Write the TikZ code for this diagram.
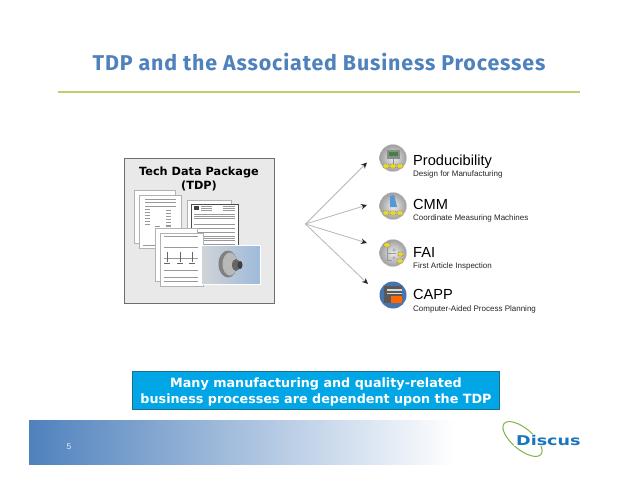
\documentclass[tikz,border=0pt]{standalone}
\usepackage{fontspec}
\setmainfont{Liberation Sans}
\newfontfamily\boldface{DejaVu Sans Bold}
\newfontfamily\titleface[LetterSpace=4]{Fira Sans Bold}
\newfontfamily\logoface[FakeStretch=1.3]{DejaVu Sans Bold}
\usetikzlibrary{arrows.meta,shadings}
\definecolor{titleblue}{HTML}{4F81BD}
\definecolor{rulegreen}{HTML}{B9D26E}
\definecolor{callfill}{HTML}{00A6E6}
\definecolor{callline}{HTML}{1F6F86}
\definecolor{boxfill}{HTML}{E9E9E9}
\definecolor{boxline}{HTML}{6E6E6E}
\definecolor{logoblue}{HTML}{1B75BC}
\definecolor{logogreen}{HTML}{7DB546}
\definecolor{iconyellow}{HTML}{EBD92A}
\tikzset{
  x=1pt,y=-1pt,
  big/.style={anchor=base west,inner sep=0pt,font=\fontsize{14.6}{18}\selectfont,text=black},
  small/.style={anchor=base west,inner sep=0pt,font=\fontsize{8}{10}\selectfont,text=black!85},
  link/.style={draw=black!28,line width=0.8pt,-{Stealth[length=6pt,width=5.5pt,black!85]}},
  paper/.style={fill=white,draw=black!30,line width=0.4pt},
  ink/.style={draw=black!40,line width=0.3pt},
  ball/.style={circle,minimum size=27pt,inner sep=0pt,inner color=black!7,outer color=black!38,draw=black!22,line width=0.3pt},
  pad/.style={fill=iconyellow,draw=black!50,line width=0.3pt,rounded corners=0.8pt},
}
\begin{document}
\begin{tikzpicture}
\useasboundingbox (0,0) rectangle (638,493);
\fill[white] (0,0) rectangle (638,493);
% title
\node[inner sep=0pt,anchor=center,text=titleblue,font=\titleface\fontsize{21.4}{24}\selectfont] (title) at (319,62) {TDP and the Associated Business Processes};
\draw[rulegreen,line width=1.2pt] (58,92) -- (580,92);
% TDP box
\node[draw=boxline,fill=boxfill,line width=0.8pt,minimum width=150pt,minimum height=145pt,inner sep=0pt] (tdp) at (199,230.5) {};
\node[inner sep=0pt,align=center,font=\boldface\fontsize{11.3}{14}\selectfont] (tdptext) at (199,179) {Tech Data Package\\(TDP)};
% document 1
\draw[paper] (134,190) rectangle (175,243);
\draw[paper] (139,195) rectangle (181,248);
\foreach \y in {199,202,206}{\draw[ink] (145,\y) -- (176,\y);}
\foreach \y in {209,212,...,224}{\draw[ink] (145,\y) -- (150,\y); \draw[ink] (166,\y+1) -- (171,\y+1);}
\foreach \y in {226,229,232,235}{\draw[ink] (155,\y) -- (160,\y); \draw[ink] (166,\y) -- (171,\y);}
\draw[ink] (143,245) -- (176,245);
% document 2
\draw[paper] (187,200) rectangle (231,252);
\draw[paper,draw=black!70,line width=0.6pt] (191,204) rectangle (238,257);
\fill[black!75] (194,206) rectangle (199,210);
\foreach \y in {206,208,210}{\draw[ink] (201,\y) -- (212,\y); \draw[ink] (223,\y) -- (235,\y);}
\foreach \y in {214,216,218,224,228,232,236,238,240,244,246,250}{\draw[ink] (194,\y) -- (235,\y);}
% document 3
\draw[paper] (155,228) rectangle (197,281);
\draw[paper] (160,233) rectangle (203,286);
\foreach \y in {236,247,258,270,277,281}{\draw[ink] (164,\y) -- (198,\y);}
\foreach \x in {167,180,192}{\draw[black!60,line width=0.8pt] (\x,252) -- (\x,262) (\x-3,263) -- (\x+3,263);}
% picture
\shade[left color=titleblue!30!black!20,right color=titleblue!55] (201,245) rectangle (260,284);
\draw[white,line width=0.4pt] (201,245) rectangle (260,284);
\fill[black!50] (228,264) ellipse (9.5pt and 13.5pt);
\fill[black!28] (230,264) ellipse (7.5pt and 11.5pt);
\fill[black!60] (236,265) ellipse (4pt and 6pt);
\fill[black!75] (240,265) ellipse (2.5pt and 4pt);
% icons
\node[ball] (i1) at (393,158) {};
\node[ball] (i2) at (393,206) {};
\node[ball] (i3) at (393,253) {};
\node[circle,minimum size=27pt,inner sep=0pt,fill=titleblue!90!black] (i4) at (393,295) {};
% icon 1
\fill[black!45] (387,150) rectangle (400,159);
\fill[green!35!black!75] (389,151.5) rectangle (398,155.5);
\draw[black!45,line width=0.4pt] (393,159) -- (393,164);
\foreach \x in {386,393,400}{\draw[pad] (\x-3,164) rectangle (\x+3,168);}
% icon 2
\fill[cyan!60!blue!70] (390,196) -- (394,195) -- (397,207) -- (390,207) -- cycle;
\foreach \x in {386,393,400}{\draw[pad] (\x-3,211) rectangle (\x+3,215);}
% icon 3
\draw[black!40,line width=0.4pt] (387,247) -- (387,260) -- (392,260) (387,253) -- (396,253);
\draw[pad] (384,243) rectangle (390,247);
\draw[pad] (398,252) rectangle (403,256);
\draw[pad] (397,259) rectangle (403,263);
\fill[black!30] (394,250) circle (1.8pt) (394,258) circle (1.8pt);
% icon 4
\fill[black!65] (384,286) rectangle (402,303);
\fill[black!15] (387,289) rectangle (402,291);
\fill[black!15] (387,293) rectangle (402,294);
\fill[orange!80!red] (391,296) rectangle (402,303);
% arrows
\coordinate (hub) at (305.5,224);
\coordinate (e1) at (367,162.5);
\coordinate (e2) at (367,205);
\coordinate (e3) at (367,243);
\coordinate (e4) at (368,284);
\foreach \e in {e1,e2,e3,e4}{\draw[link] (hub) -- (\e);}
% labels
\node[big] (l1) at (413,165) {Producibility};
\node[small] (s1) at (413,176) {Design for Manufacturing};
\node[big] (l2) at (413,209.5) {CMM};
\node[small] (s2) at (413,220) {Coordinate Measuring Machines};
\node[big] (l3) at (413,257) {FAI};
\node[small] (s3) at (413,268) {First Article Inspection};
\node[big] (l4) at (413,299) {CAPP};
\node[small] (s4) at (413,311) {Computer-Aided Process Planning};
% callout
\node[draw=callline,fill=callfill,line width=0.8pt,minimum width=367pt,minimum height=37.5pt,inner sep=0pt] (call) at (316,390.5) {};
\node[inner sep=0pt,align=center,text=white,font=\boldface\fontsize{12.75}{16}\selectfont] (calltext) at (316,392) {Many manufacturing and quality-related\\business processes are dependent upon the TDP};
% footer band
\shade[left color=titleblue,right color=white,middle color=titleblue!50!white] (29,420) rectangle (455,464);
\node[inner sep=0pt,text=white!85!titleblue,font=\fontsize{8.5}{10}\selectfont] (page) at (69,447) {5};
% logo
\draw[logogreen,line width=1pt,rotate around={-40:(522.5,439)}] (522.5,439) ellipse (24pt and 10.5pt);
\fill[white] (514,434) rectangle (581,446);
\node[inner sep=0pt,anchor=west,text=logoblue,font=\logoface\fontsize{13.5}{16}\selectfont] (logo) at (516,440) {Discus};
\end{tikzpicture}
\end{document}
